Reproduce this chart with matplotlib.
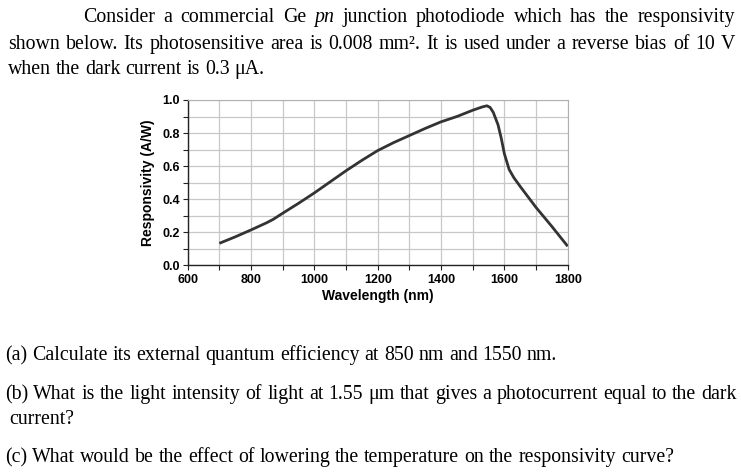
import matplotlib
matplotlib.use('Agg')
import matplotlib.pyplot as plt
from matplotlib.ticker import MultipleLocator

# responsivity curve
wavelength = [700, 750, 800, 850, 870, 900, 950, 1000, 1050, 1100, 1150, 1200,
              1250, 1300, 1350, 1400, 1450, 1500, 1530, 1545, 1555, 1565, 1580,
              1590, 1600, 1615, 1630, 1650, 1700, 1750, 1800]
responsivity = [0.133, 0.172, 0.214, 0.258, 0.278, 0.315, 0.375, 0.438, 0.505,
                0.572, 0.635, 0.694, 0.742, 0.785, 0.828, 0.868, 0.900, 0.938,
                0.958, 0.965, 0.955, 0.925, 0.850, 0.770, 0.675, 0.580, 0.530,
                0.477, 0.350, 0.235, 0.115]

x_ticks = [600, 800, 1000, 1200, 1400, 1600, 1800]
y_ticks = [0.0, 0.2, 0.4, 0.6, 0.8, 1.0]

W, H = 741, 472
SERIF = ['Liberation Serif', 'DejaVu Serif']
SANS = ['Liberation Sans', 'DejaVu Sans']
FS = 14.3

fig = plt.figure(figsize=(W / 100, H / 100), dpi=100)
ax = fig.add_axes([187.7 / W, 1 - 265.3 / H, 380 / W, 165.3 / H])

ax.plot(wavelength, responsivity, color='#333333', lw=2.0, solid_capstyle='butt')
ax.set_xlim(600, 1800)
ax.set_ylim(0, 1.0)
ax.set_xticks(x_ticks)
ax.set_yticks(y_ticks)
ax.set_xticklabels([str(v) for v in x_ticks], family=SANS, fontsize=9, fontweight='bold')
ax.set_yticklabels(['%.1f' % v for v in y_ticks], family=SANS, fontsize=9, fontweight='bold')
ax.xaxis.set_minor_locator(MultipleLocator(100))
ax.yaxis.set_minor_locator(MultipleLocator(0.1))
ax.tick_params(which='both', direction='out', length=3.5, width=0.8, color='#222222')
ax.tick_params(axis='x', pad=3)
ax.tick_params(axis='y', pad=2)
ax.grid(which='both', color='#c8c8c8', lw=0.9)
for s in ['top', 'right']:
    ax.spines[s].set_color('#b0b0b0')
for s in ['left', 'bottom']:
    ax.spines[s].set_color('#222222')
    ax.spines[s].set_linewidth(1.0)
ax.set_xlabel('Wavelength (nm)', family=SANS, fontsize=10, fontweight='bold', labelpad=2)
ax.set_ylabel('Responsivity (A/W)', family=SANS, fontsize=10, fontweight='bold', labelpad=5)

renderer = fig.canvas.get_renderer()


def put_line(words, base_y, x0, x1=None):
    texts = []
    for w in words:
        style = 'normal'
        if isinstance(w, tuple):
            w, style = w
        texts.append(fig.text(0, 1 - base_y / H, w, fontsize=FS, family=SERIF,
                              style=style, va='baseline', ha='left'))
    widths = [t.get_window_extent(renderer).width for t in texts]
    if x1 is None or len(words) < 2:
        gap = 0.25 * FS * 100 / 72
    else:
        gap = (x1 - x0 - sum(widths)) / (len(words) - 1)
    x = x0
    for t, w in zip(texts, widths):
        t.set_x(x / W)
        x += w + gap


line1 = ['Consider', 'a', 'commercial', 'Ge', ('pn', 'italic'), 'junction',
         'photodiode', 'which', 'has', 'the', 'responsivity']
line2 = ['shown', 'below.', 'Its', 'photosensitive', 'area', 'is', '0.008', 'mm².',
         'It', 'is', 'used', 'under', 'a', 'reverse', 'bias', 'of', '10', 'V']
line3 = 'when the dark current is 0.3 μA.'.split()
qa = '(a) Calculate its external quantum efficiency at 850 nm and 1550 nm.'.split()
qb = ('(b) What is the light intensity of light at 1.55 μm that gives a '
      'photocurrent equal to the dark').split()
qb2 = ['current?']
qc = '(c) What would be the effect of lowering the temperature on the responsivity curve?'.split()

put_line(line1, 22, 83, 735)
put_line(line2, 49, 8, 735)
put_line(line3, 74, 8)
put_line(qa, 360, 5)
put_line(qb, 399, 5, 737)
put_line(qb2, 424, 9)
put_line(qc, 462, 5)

fig.savefig('out.png', dpi=100)
